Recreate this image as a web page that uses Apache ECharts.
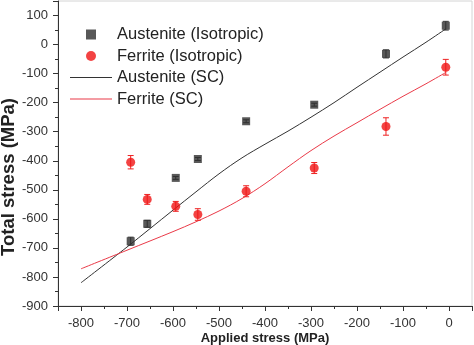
<!DOCTYPE html>
<html>
<head>
<meta charset="utf-8">
<script src="https://cdn.jsdelivr.net/npm/echarts@6/dist/echarts.min.js"></script>
<style>
html,body{margin:0;padding:0;background:#fff;}
#chart{width:474px;height:345px;}
</style>
</head>
<body>
<div id="chart"></div>
<script>
// Measured points (applied stress, total stress, error)
const pointX = [-692, -656, -594, -546, -441, -293, -137, -7];
const austeniteY = [-677, -617, -459, -394, -264, -207, -32, 65];
const austeniteErr = [14, 12, 5, 5, 5, 5, 14, 15];
const ferriteY = [-405, -533, -557, -585, -505, -425, -282, -78];
const ferriteErr = [23, 17, 17, 20, 19, 19, 30, 27];
// Self-consistent model curves
const scX = [-800, -700, -600, -550, -500, -450, -400, -350, -300, -250, -200, -150, -100, -50, -7];
const austeniteSC = [-820, -697, -570, -507, -445, -390, -343, -298, -250, -200, -147, -95, -43, 8, 54];
const ferriteSC = [-772, -708, -644, -610, -573, -530, -479, -421, -365, -315, -269, -223, -178, -135, -96];
const names = ['Austenite (Isotropic)', 'Ferrite (Isotropic)', 'Austenite (SC)', 'Ferrite (SC)'];

const FONT = 'Liberation Sans, Arial, sans-serif';
const pts = (xs, ys) => xs.map((x, i) => [x, ys[i]]);
const errData = (xs, ys, es) => xs.map((x, i) => [x, ys[i], es[i]]);

function errBar(color) {
  return function (params, api) {
    const x = api.value(0), y = api.value(1), e = api.value(2);
    const top = api.coord([x, y + e]);
    const bot = api.coord([x, y - e]);
    const hw = 3;
    const style = { stroke: color, lineWidth: 1 };
    return {
      type: 'group',
      children: [
        { type: 'line', shape: { x1: top[0], y1: top[1], x2: bot[0], y2: bot[1] }, style },
        { type: 'line', shape: { x1: top[0] - hw, y1: top[1], x2: top[0] + hw, y2: top[1] }, style },
        { type: 'line', shape: { x1: bot[0] - hw, y1: bot[1], x2: bot[0] + hw, y2: bot[1] }, style }
      ]
    };
  };
}

const chart = echarts.init(document.getElementById('chart'), null, { renderer: 'canvas' });
const axisCommon = {
  type: 'value',
  axisLine: { show: true, onZero: false, lineStyle: { color: '#333', width: 1 } },
  axisTick: { show: true, inside: false, length: 5, lineStyle: { color: '#333' } },
  minorTick: { show: true, splitNumber: 2, length: 3, lineStyle: { color: '#333' } },
  splitLine: { show: false },
  minorSplitLine: { show: false }
};
const squareIcon = 'path://M0,0L10,0L10,10L0,10Z';
const lineIcon = 'path://M0,0L42,0L42,1L0,1Z';
chart.setOption({
  animation: false,
  backgroundColor: '#fff',
  grid: { left: 58, right: 2, top: 1, bottom: 39, containLabel: false, outerBoundsMode: 'none',
    show: true, borderColor: '#d4d4d4', borderWidth: 1 },
  legend: {
    orient: 'vertical', left: 65, top: 21, itemWidth: 42, itemHeight: 10, itemGap: 4.5,
    symbolKeepAspect: true,
    data: [
      { name: names[0], icon: squareIcon, itemStyle: { color: '#2e2e2e' } },
      { name: names[1], icon: 'circle' },
      { name: names[2], icon: lineIcon, itemStyle: { color: '#333' } },
      { name: names[3], icon: lineIcon, itemStyle: { color: '#ea3a48' } }
    ],
    textStyle: { fontFamily: FONT, fontSize: 16.5, color: '#222', lineHeight: 16 }
  },
  xAxis: Object.assign({}, axisCommon, {
    min: -850, max: 50, splitNumber: 9,
    axisLabel: { fontFamily: FONT, fontSize: 13, color: '#333', margin: 11,
      formatter: v => (v % 100 === 0 ? String(v) : '') },
    name: 'Applied stress (MPa)', nameLocation: 'middle', nameGap: 26, nameMoveOverlap: false,
    nameTextStyle: { fontFamily: FONT, fontSize: 13, fontWeight: 'bold', color: '#222' }
  }),
  yAxis: Object.assign({}, axisCommon, {
    min: -900, max: 150, interval: 100,
    axisLabel: { fontFamily: FONT, fontSize: 13, color: '#333', margin: 10,
      formatter: v => (v % 100 === 0 && v <= 100 ? String(v) : '') }
  }),
  graphic: [{
    type: 'text', x: 9, y: 177, rotation: Math.PI / 2,
    style: { text: 'Total stress (MPa)', font: 'bold 18.5px ' + FONT, fill: '#222', textAlign: 'center', textVerticalAlign: 'middle' }
  }],
  series: [
    { type: 'custom', name: 'errA', renderItem: errBar('#333'), data: errData(pointX, austeniteY, austeniteErr), z: 3 },
    { type: 'custom', name: 'errF', renderItem: errBar('#ee2222'), data: errData(pointX, ferriteY, ferriteErr), z: 3 },
    { type: 'line', name: names[2], data: pts(scX, austeniteSC), smooth: 0.35, symbol: 'none', showSymbol: false,
      lineStyle: { color: '#333', width: 1 }, itemStyle: { color: '#333' }, z: 2 },
    { type: 'line', name: names[3], data: pts(scX, ferriteSC), smooth: 0.35, symbol: 'none', showSymbol: false,
      lineStyle: { color: '#ea3a48', width: 1 }, itemStyle: { color: '#ea3a48' }, z: 2 },
    { type: 'scatter', name: names[0], data: pts(pointX, austeniteY), symbol: 'rect', symbolSize: 8,
      itemStyle: { color: '#2e2e2e' }, z: 4 },
    { type: 'scatter', name: names[1], data: pts(pointX, ferriteY), symbol: 'circle', symbolSize: 9,
      itemStyle: { color: '#f01414' }, z: 4 }
  ]
});
</script>
</body>
</html>
